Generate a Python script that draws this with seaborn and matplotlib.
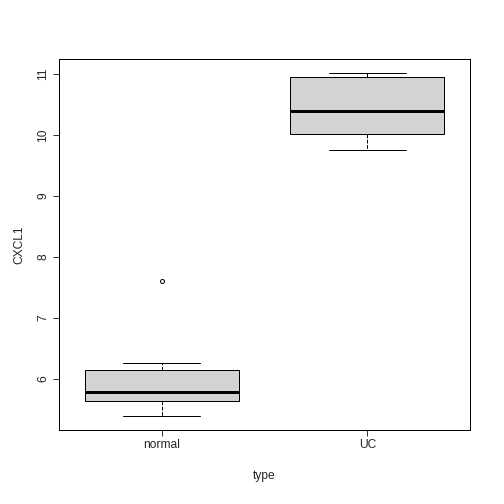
import numpy as np
import pandas as pd
import seaborn as sns
import matplotlib.pyplot as plt

# values
normal_vals = [5.39, 5.50, 5.64, 5.70, 5.79, 5.95, 6.15, 6.26, 7.60]
uc_vals = [9.75, 9.90, 10.02, 10.20, 10.39, 10.70, 10.95, 11.00, 11.02]
groups = ["normal", "UC"]

df = pd.DataFrame({
    "type": ["normal"] * len(normal_vals) + ["UC"] * len(uc_vals),
    "CXCL1": normal_vals + uc_vals,
})

sns.set_style("white")
plt.rcParams['font.family'] = ['Liberation Sans', 'DejaVu Sans']

fig = plt.figure(figsize=(7, 7), dpi=72)
ax = fig.add_axes([59/504, 74/504, 411/504, 371/504])
sns.boxplot(data=df, x="type", y="CXCL1", order=groups, color="#D3D3D3",
            width=0.75, linecolor="black", linewidth=1, saturation=1,
            whiskerprops=dict(linestyle="--"),
            medianprops=dict(linewidth=3),
            flierprops=dict(marker="o", markerfacecolor="none",
                            markeredgecolor="black", markersize=4),
            ax=ax)
# R-style half-width caps
for line in ax.lines:
    x = line.get_xdata()
    y = line.get_ydata()
    if len(x) == 2 and y[0] == y[1] and x[0] != x[1]:
        c = (x[0] + x[1]) / 2
        half = abs(x[1] - x[0]) / 2
        if half < 0.375 * 0.6:
            line.set_xdata([c - 0.1875, c + 0.1875])

ax.set_xlim(-0.5, 1.5)
ax.set_ylim(5.165, 11.245)
ax.set_yticks([6, 7, 8, 9, 10, 11])
for lab in ax.get_yticklabels():
    lab.set_rotation(90)
    lab.set_va("center")
ax.tick_params(axis="both", length=6, direction="out", labelsize=12,
               left=True, bottom=True, color="black")
ax.set_xlabel("type", fontsize=12, labelpad=18)
ax.set_ylabel("CXCL1", fontsize=12, labelpad=12)
for s in ax.spines.values():
    s.set_color("black")
    s.set_linewidth(1)

fig.savefig("out.png", dpi=72)
